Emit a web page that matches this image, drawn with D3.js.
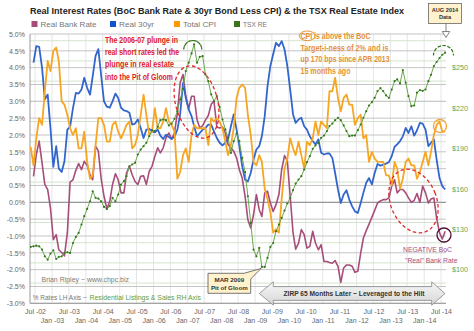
<!DOCTYPE html>
<html>
<head>
<meta charset="utf-8">
<script src="https://cdn.jsdelivr.net/npm/d3@7"></script>
<style>
  body { margin: 0; background: #fff; }
  svg { display: block; font-family: "Liberation Sans", Arial, sans-serif; }
</style>
</head>
<body>
<div id="chart"></div>
<script>
// monthly series, May 2002 .. Aug 2014 (null = no value yet)
const firstMonth = [2002, 4];
const monthCount = 148;

const realBankRate = [
  null, 0.77, 1.42, 1.82, 1.17, 0.53, 0.38, -0.17,
  -1.11, -0.96, -1.41, -1.49, -1.59, -0.91, 0.6, 0.67, 0.95, 1.15, 0.97, 1.22,
  1.09, 0.82, 0.67, 1.67, 1.52, 0.69, 0.18, -0.2, 0.03, 0.53, 0.85, 0.67,
  0.28, 0.28, 0.87, 1.07, 0.82, 0.62, 0.53, 0.77, 0.79, 0.53, 0.92, 1.07,
  1.37, 1.62, 1.47, 1.62, 1.91, 2.06, 1.88, 2.06, 2.66, 3.55, 3.8, 3.15,
  2.78, 3.15, 3.15, 2.46, 2.21, 2.28, 2.44, 2.58, 2.91, 3.01, 2.24, 2.21,
  2.24, 2.06, 1.72, 1.62, 1.52, 1.32, 0.97, 0.72, 0.18, -0.52, -0.76, -0.37,
  0.23, -0.22, -0.42, 0.28, 0.33, -0.02, -0.27, -0.07, 0.23, 0.97, 1.39, 1.22,
  0.18, -0.91, -1.39, -1.21, -0.81, -0.96, -1.36, -1.31, -0.86, -1.21, -1.41, -1.26,
  -1.76, -1.76, -1.79, -1.81, -1.73, -1.9, -2.38, -1.95, -1.86, -1.86, -1.9, -2.08,
  -2.05, -1.51, -1.06, -0.84, -0.65, -0.44, -0.24, -0.02, 0.04, 0.08, 0.08, 0.13,
  0.48, 0.67, 0.28, 0.38, 0.38, 0.28, 0.13, 0, 0.06, 0.26, 0, 0.48,
  0.28, -0.02, 0.1, 0.13, -0.47, -0.91, -1.09, -0.86
];

const real30yr = [
  null, 4.15, 4.64, 4.62, 4.0, 3.06, 3.2, 2.2,
  1.05, 1.67, 1.0, 0.9, 1.22, 2.16, 2.25, 2.8, 3.25, 3.23, 3.35, 3.7,
  3.4, 3.2, 3.75, 4.35, 4.55, 3.75, 3.0, 2.84, 2.81, 3.0, 3.23, 3.1,
  2.81, 2.73, 2.71, 2.66, 2.31, 2.34, 2.46, 2.21, 1.91, 2.16, 2.18, 2.11,
  2.08, 2.16, 1.98, 1.88, 2.01, 1.94, 1.88, 1.96, 2.16, 2.61, 3.55, 3.1,
  2.76, 2.56, 2.26, 1.96, 2.06, 2.16, 2.21, 2.31, 2.31, 2.11, 1.91, 1.77,
  1.69, 1.77, 1.87, 2.26, 2.61, 2.16, 1.67, 1.07, 0.67, 0.62, 0.87, 1.27,
  1.57, 1.67, 1.96, 2.56, 3.45, 4.05, 4.4, 4.74, 4.64, 4.79, 4.54, 4.05,
  3.35, 2.61, 2.36, 2.46, 2.51, 2.26, 2.16, 1.96, 1.82, 1.72, 1.87, 1.47,
  1.42, 1.45, 1.45, 1.32, 0.87, 0.38, -0.02, 0.23, 0.36, 0.08, -0.12, -0.27,
  -0.32, -0.02, 0.28, 0.58, 0.72, 0.53, 0.87, 1.14, 1.09, 1.12, 1.15, 1.19,
  1.37, 1.65, 1.72, 1.82, 1.96, 2.21, 2.06, 2.26, 1.98, 2.14, 2.36, 2.34,
  2.16, 1.67, 1.77, 1.87, 1.27, 0.72, 0.48, 0.38
];

const totalCpi = [
  1.65, 1.1, 1.9, 2.5, 2.3, 3.3, 4.2, 3.9,
  4.5, 4.6, 4.2, 3.0, 2.9, 2.6, 2.2, 2.0, 2.2, 1.6, 1.6, 2.1,
  1.2, 0.7, 0.8, 1.7, 2.5, 2.5, 2.3, 1.8, 1.8, 2.3, 2.4, 2.1,
  1.9, 2.1, 2.3, 2.4, 1.6, 1.7, 2.0, 2.6, 3.2, 2.6, 2.0, 2.1,
  2.8, 2.2, 2.2, 2.4, 2.8, 2.4, 2.3, 2.1, 0.7, 0.9, 1.4, 1.6,
  1.2, 2.0, 2.3, 2.2, 2.2, 2.2, 2.2, 1.7, 2.5, 2.4, 2.5, 2.4,
  2.2, 1.8, 1.4, 1.7, 2.2, 3.1, 3.4, 3.5, 3.4, 2.6, 2.0, 1.2,
  1.1, 1.4, 1.2, 0.4, 0.1, -0.3, -0.9, -0.8, -0.9, 0.1, 1.0, 1.3,
  1.9, 1.6, 1.4, 1.8, 1.4, 1.0, 1.8, 1.7, 1.9, 2.4, 2.0, 2.4,
  2.3, 2.2, 3.3, 3.3, 3.7, 3.1, 2.7, 3.1, 3.2, 2.9, 2.9, 2.3,
  2.5, 2.6, 1.9, 2.0, 1.2, 1.5, 1.3, 1.2, 1.2, 1.2, 0.8, 0.8,
  0.5, 1.2, 1.0, 0.4, 0.7, 1.2, 1.3, 1.1, 1.1, 0.7, 0.9, 1.2,
  1.5, 1.1, 1.5, 2.0, 2.3, 2.4, 2.1, 2.1
];

const tsxRe = [
  116.9, 117.3, 117.8, 117.3, 114.9, 109.9, 107.4, 111.9,
  114.4, 107.9, 109.4, 109.9, 112.4, 112.9, 112.4, 119.8, 124.3, 127.3, 133.5, 139.7,
  145.1, 150.8, 158.2, 153.3, 152.8, 150.8, 146.6, 145.1, 147.1, 153.3, 150.8, 155.8,
  163.2, 165.7, 169.4, 176.8, 178.1, 179.3, 185.5, 189.2, 191.7, 194.2, 199.1, 203.6,
  202.9, 206.1, 211.0, 211.5, 211.0, 207.1, 208.5, 212.0, 217.7, 226.4, 234.3, 247.5,
  253.7, 260.6, 267.3, 253.7, 258.1, 258.6, 245.0, 240.0, 230.1, 225.2, 228.9, 220.9,
  211.5, 204.1, 197.9, 186.7, 195.4, 201.1, 195.4, 183.0, 172.4, 154.5, 134.7, 114.9,
  109.9, 116.1, 102.0, 102.0, 108.7, 116.9, 119.8, 128.5, 133.5, 138.4, 143.9, 149.1,
  153.3, 159.0, 163.9, 166.9, 169.4, 174.3, 179.8, 184.3, 189.7, 192.2, 194.2, 197.9,
  199.6, 202.9, 206.6, 208.5, 211.0, 212.8, 211.0, 207.1, 202.9, 199.1, 199.6, 199.6,
  203.6, 207.8, 212.8, 217.7, 221.9, 224.4, 227.6, 232.6, 234.8, 232.6, 229.4, 227.6,
  233.8, 240.0, 241.3, 238.3, 248.2, 238.8, 228.9, 221.4, 221.9, 231.4, 233.3, 232.8,
  233.8, 240.0, 244.7, 251.2, 254.2, 257.1, 259.6, 261.1
];

const leftTicks = [-3, -2.5, -2, -1.5, -1, -0.5, 0, 0.5, 1, 1.5, 2, 2.5, 3, 3.5, 4, 4.5, 5];
const rightTicks = [100, 130, 160, 190, 220, 250];

const seriesNames = ['Real Bank Rate', 'Real 30yr', 'Total CPI', 'TSX RE'];
const seriesColors = ['#a64d79', '#3366cc', '#f6a623', '#6aa84f'];
const legendSwatch = ['#a64d79', '#1155cc', '#ff9900', '#38761d'];

const W = 474, H = 331;
const plot = { left: 30, right: 446, top: 34, bottom: 303.3 };

const svg = d3.select('#chart').append('svg')
    .attr('width', W)
    .attr('height', H);

// month dates, plotted mid-month
const months = d3.range(monthCount).map(i => new Date(firstMonth[0], firstMonth[1] + i, 15));

const x = d3.scaleTime()
    .domain([new Date(2002, 6, 1), new Date(2014, 6, 1)])
    .range([35, 441]);
const yL = d3.scaleLinear().domain([-3, 5]).range([plot.bottom, plot.top]);
const yR = d3.scaleLinear().domain([75, 275]).range([plot.bottom, plot.top]);

// fit a text node to a measured width
function fit(sel, w) {
    sel.attr('textLength', w).attr('lengthAdjust', 'spacingAndGlyphs');
    return sel;
}

// --- grid ---
const grid = svg.append('g');
const halfYears = d3.timeMonth.every(6).range(new Date(2002, 6, 1), new Date(2014, 7, 1));
grid.selectAll('.vg')
    .data(halfYears)
    .enter().append('line')
    .attr('x1', d => x(d)).attr('x2', d => x(d))
    .attr('y1', plot.top).attr('y2', plot.bottom)
    .attr('stroke', '#e6e6e6').attr('stroke-width', 1);

const rightGrid = d3.range(90, 275, 15);
grid.selectAll('.rg')
    .data(rightGrid)
    .enter().append('line')
    .attr('x1', plot.left).attr('x2', plot.right)
    .attr('y1', d => yR(d)).attr('y2', d => yR(d))
    .attr('stroke', '#d5e3cc').attr('stroke-width', 1);

grid.selectAll('.lg')
    .data(leftTicks)
    .enter().append('line')
    .attr('x1', plot.left).attr('x2', plot.right)
    .attr('y1', d => yL(d)).attr('y2', d => yL(d))
    .attr('stroke', d => d === 0 ? '#999' : '#c4c4c4')
    .attr('stroke-width', d => d === 0 ? 1.3 : 1);

// frame
svg.append('line')
    .attr('x1', plot.left).attr('x2', plot.left)
    .attr('y1', plot.top).attr('y2', plot.bottom)
    .attr('stroke', '#999');
svg.append('line')
    .attr('x1', plot.left).attr('x2', plot.right)
    .attr('y1', plot.bottom).attr('y2', plot.bottom)
    .attr('stroke', '#999');

// --- axes ---
const leftAxis = svg.append('g')
    .attr('transform', 'translate(25,0)')
    .call(d3.axisLeft(yL).tickValues(leftTicks).tickSize(0).tickPadding(0)
        .tickFormat(d => d.toFixed(1) + '%'));
leftAxis.select('.domain').remove();
leftAxis.selectAll('text')
    .style('font-size', '7px')
    .attr('fill', '#666');

const rightAxis = svg.append('g')
    .attr('transform', 'translate(452,0)')
    .call(d3.axisRight(yR).tickValues(rightTicks).tickSize(0).tickPadding(0)
        .tickFormat(d => '$' + d));
rightAxis.select('.domain').remove();
rightAxis.selectAll('text')
    .style('font-size', '7.2px')
    .attr('fill', '#6aa84f');

const julTicks = d3.timeYear.range(new Date(2002, 0, 1), new Date(2015, 0, 1)).map(d => new Date(d.getFullYear(), 6, 1));
const janTicks = d3.timeYear.range(new Date(2003, 0, 1), new Date(2015, 0, 1));

const xTop = svg.append('g')
    .attr('transform', `translate(0,${plot.bottom})`)
    .call(d3.axisBottom(x).tickValues(julTicks).tickSize(0).tickPadding(6)
        .tickFormat(d3.timeFormat('%b -%y')));
const xBot = svg.append('g')
    .attr('transform', `translate(0,${plot.bottom})`)
    .call(d3.axisBottom(x).tickValues(janTicks).tickSize(0).tickPadding(15)
        .tickFormat(d3.timeFormat('%b -%y')));
[xTop, xBot].forEach(g => {
    g.select('.domain').remove();
    g.selectAll('text').style('font-size', '7px').attr('fill', '#666');
});

// --- series ---
svg.append('clipPath').attr('id', 'plotclip')
    .append('rect')
    .attr('x', plot.left).attr('y', plot.top - 2)
    .attr('width', plot.right - plot.left).attr('height', plot.bottom - plot.top + 2);

const lines = svg.append('g').attr('clip-path', 'url(#plotclip)');

function drawSeries(values, scale, color, width) {
    const pts = values.map((v, i) => ({ d: months[i], v }));
    const line = d3.line()
        .defined(p => p.v !== null)
        .x(p => x(p.d))
        .y(p => scale(p.v));
    lines.append('path')
        .datum(pts)
        .attr('d', line)
        .attr('fill', 'none')
        .attr('stroke', color)
        .attr('stroke-width', width)
        .attr('stroke-linejoin', 'round');
    return pts;
}

drawSeries(realBankRate, yL, seriesColors[0], 1.6);
drawSeries(real30yr, yL, seriesColors[1], 1.8);
drawSeries(totalCpi, yL, seriesColors[2], 1.8);
const rePts = drawSeries(tsxRe, yR, seriesColors[3], 1);
lines.selectAll('.redot')
    .data(rePts)
    .enter().append('circle')
    .attr('cx', p => x(p.d))
    .attr('cy', p => yR(p.v))
    .attr('r', 1.1)
    .attr('fill', '#38761d');

// --- title & legend ---
fit(svg.append('text')
    .attr('x', 30).attr('y', 13.5)
    .attr('font-weight', 'bold')
    .style('font-size', '8.6px')
    .attr('fill', '#222')
    .text('Real Interest Rates (BoC Bank Rate & 30yr Bond Less CPI) & the TSX Real Estate Index'), 374);

const legendX = [31.5, 110, 174, 234];
const legendTextW = [56, 35, 33, 24];
const legend = svg.append('g');
seriesNames.forEach((name, i) => {
    legend.append('rect')
        .attr('x', legendX[i]).attr('y', 21)
        .attr('width', 6).attr('height', 6)
        .attr('fill', legendSwatch[i]);
    fit(legend.append('text')
        .attr('x', legendX[i] + 9).attr('y', 27)
        .style('font-size', '8px')
        .attr('fill', '#777')
        .text(name), legendTextW[i]);
});

// --- annotations ---
const ann = svg.append('g');

// red note & ellipse, 2006-07
const redLines = ['The 2006-07 plunge in', 'real short rates led the', 'plunge in real estate', 'into the Pit of Gloom'];
const redW = [73, 74, 69, 68];
redLines.forEach((t, i) => {
    fit(ann.append('text')
        .attr('x', 105).attr('y', 43 + i * 12.2)
        .attr('font-weight', 'bold')
        .style('font-size', '8.6px')
        .attr('fill', '#e0201e')
        .text(t), redW[i]);
});
ann.append('ellipse')
    .attr('transform', 'translate(196.5,102) rotate(-15)')
    .attr('rx', 21).attr('ry', 37)
    .attr('fill', 'none')
    .attr('stroke', '#e02a2a').attr('stroke-width', 1.3)
    .attr('stroke-dasharray', '3.5,2.5');

// green dashed caps over RE peaks
[[192.8, 49.5, 9], [443.5, 55.5, 10]].forEach(([cx, cy, r]) => {
    ann.append('path')
        .attr('transform', `translate(${cx},${cy})`)
        .attr('d', d3.arc()({ innerRadius: r, outerRadius: r, startAngle: -Math.PI / 2, endAngle: Math.PI / 2 }))
        .attr('fill', 'none')
        .attr('stroke', '#38761d').attr('stroke-width', 1.2)
        .attr('stroke-dasharray', '3,2');
});

// CPI note
const cpiLines = ['CPI is above the BoC', 'Target-i-ness of 2% and is', 'up 170 bps since APR 2013', '15 months ago'];
const cpiW = [70, 88, 89, 50];
cpiLines.forEach((t, i) => {
    fit(ann.append('text')
        .attr('x', 300.5).attr('y', 39 + i * 11.5)
        .attr('font-weight', 'bold')
        .style('font-size', '8.4px')
        .attr('fill', '#e69138')
        .text(t), cpiW[i]);
});
ann.append('ellipse')
    .attr('cx', 307.2).attr('cy', 35.8)
    .attr('rx', 8).attr('ry', 4.8)
    .attr('fill', 'none')
    .attr('stroke', '#e69138').attr('stroke-width', 1);

// orange circle at latest CPI
ann.append('circle')
    .attr('cx', 440).attr('cy', 126).attr('r', 6.5)
    .attr('fill', 'none')
    .attr('stroke', '#f3a33a').attr('stroke-width', 1.3);

// right red ellipse & purple circle
ann.append('ellipse')
    .attr('transform', 'translate(413.5,201) rotate(-22)')
    .attr('rx', 23).attr('ry', 33)
    .attr('fill', 'none')
    .attr('stroke', '#e02a2a').attr('stroke-width', 1.3)
    .attr('stroke-dasharray', '3.5,2.5');
ann.append('circle')
    .attr('cx', 444).attr('cy', 235).attr('r', 7)
    .attr('fill', 'none')
    .attr('stroke', '#4c1130').attr('stroke-width', 1.3);

const negLines = [['NEGATIVE BoC', 403, 251.5, 49], ['"Real" Bank Rate', 405, 262.5, 52.5]];
negLines.forEach(([t, tx, ty, w]) => {
    fit(ann.append('text')
        .attr('x', tx).attr('y', ty)
        .style('font-size', '8px')
        .attr('fill', '#a64d79')
        .text(t), w);
});

// AUG 2014 box
ann.append('rect')
    .attr('x', 428.5).attr('y', 3.5)
    .attr('width', 33).attr('height', 20)
    .attr('fill', '#fff2cc').attr('stroke', '#666').attr('stroke-width', 0.8);
[['AUG 2014', 11.8], ['Data', 19.2]].forEach(([t, ty]) => {
    ann.append('text')
        .attr('x', 445).attr('y', ty)
        .attr('text-anchor', 'middle')
        .attr('font-weight', 'bold')
        .style('font-size', '5.6px')
        .attr('fill', '#333')
        .text(t);
});
ann.append('line')
    .attr('x1', 446).attr('x2', 446).attr('y1', 23.5).attr('y2', 31.5)
    .attr('stroke', '#666').attr('stroke-width', 0.8);
ann.append('path')
    .attr('d', 'M442.3,31.5 L449.7,31.5 L446,37.5 Z')
    .attr('fill', '#fff').attr('stroke', '#666').attr('stroke-width', 0.8);

// MAR 2009 callout
ann.append('path')
    .attr('d', 'M208,273.3 L244,273.3 L261,268.5 L250.7,279 L250.7,293.3 L208,293.3 Z')
    .attr('fill', '#fff2cc').attr('stroke', '#555').attr('stroke-width', 0.8);
[['MAR 2009', 282], ['Pit of Gloom', 290.3]].forEach(([t, ty]) => {
    ann.append('text')
        .attr('x', 229.3).attr('y', ty)
        .attr('text-anchor', 'middle')
        .attr('font-weight', 'bold')
        .style('font-size', '6.2px')
        .attr('fill', '#333')
        .text(t);
});

// ZIRP double arrow
const grad = svg.append('defs').append('linearGradient')
    .attr('id', 'arrowfill').attr('x1', 0).attr('x2', 0).attr('y1', 0).attr('y2', 1);
grad.append('stop').attr('offset', '0%').attr('stop-color', '#f7f7f7');
grad.append('stop').attr('offset', '100%').attr('stop-color', '#d6d6d6');
ann.append('path')
    .attr('d', 'M259.3,293.5 L273.3,281.8 L273.3,286.6 L431.7,286.6 L431.7,281.8 L445,293.5 L431.7,305.2 L431.7,300.4 L273.3,300.4 L273.3,305.2 Z')
    .attr('fill', 'url(#arrowfill)').attr('stroke', '#888').attr('stroke-width', 0.8);
fit(ann.append('text')
    .attr('x', 283.5).attr('y', 296.3)
    .attr('font-weight', 'bold')
    .style('font-size', '7.6px')
    .attr('fill', '#333')
    .text('ZIRP 65 Months Later ~ Leveraged to the Hilt'), 141);

// credit lines
fit(ann.append('text')
    .attr('x', 41.5).attr('y', 281.8)
    .style('font-size', '8px')
    .attr('fill', '#7a7a7a')
    .text('Brian Ripley ~ www.chpc.biz'), 87.5);
fit(ann.append('text')
    .attr('x', 32.7).attr('y', 299.8)
    .style('font-size', '7.6px')
    .attr('fill', '#777')
    .text('% Rates LH Axis ~'), 54);
fit(ann.append('text')
    .attr('x', 89.5).attr('y', 299.8)
    .style('font-size', '7.6px')
    .attr('fill', '#5e9c45')
    .text('Residential Listings & Sales RH Axis'), 111.5);
</script>
</body>
</html>
